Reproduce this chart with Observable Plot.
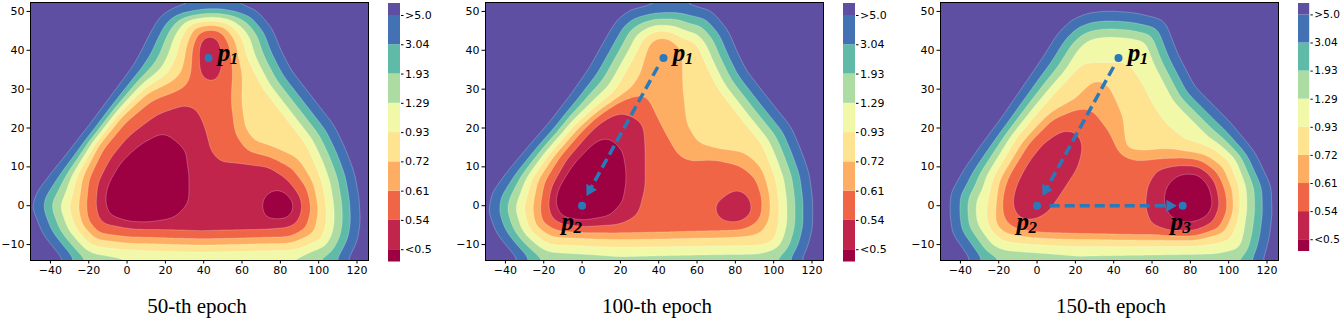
<!DOCTYPE html>
<html><head><meta charset="utf-8">
<script src="https://cdn.jsdelivr.net/npm/d3@7"></script>
<script src="https://cdn.jsdelivr.net/npm/@observablehq/plot@0.6"></script>
<style>
body{margin:0;background:#fff;}
#wrap{position:relative;width:1344px;height:319px;overflow:hidden;background:#fff;}
.pos{position:absolute;top:0;}
.title{position:absolute;top:296px;font-family:"Liberation Serif";font-size:21px;line-height:21px;white-space:nowrap;transform:translateX(-50%);color:#000;}
</style></head><body><div id="wrap"></div>
<script>
// ---------- data ----------
const thresholds = [0.5, 0.54, 0.61, 0.72, 0.93, 1.29, 1.93, 3.04, 5.0];
const barLabels = ["<0.5", "0.54", "0.61", "0.72", "0.93", "1.29", "1.93", "3.04", ">5.0"];
const bandColors = ["#9e0142", "#c2254b", "#ef6545", "#fdae62", "#fee391", "#f1f9a9", "#addca3", "#5fbba8", "#4272b3", "#5e4fa2"];
const xTicks = [-40, -20, 0, 20, 40, 60, 80, 100, 120];
const yTicks = [-10, 0, 10, 20, 30, 40, 50];
const xDomain = [-50.4, 126];
const yDomain = [-14.1, 52.3];
const epochTitles = ["50-th epoch", "100-th epoch", "150-th epoch"];

// contour rings [x, y] (data units) enclosing the region below each loss level
// 50-th epoch
const e50_050 = [
  [[-10.5,1.5],[-8,-2],[0,-3.7],[12,-3.7],[23,-2.4],[29.5,0.6],[29.8,6.6],[29,13.5],[19.3,17.7],[8.8,15.2],[-1.8,10.9],[-8.8,4.9]],
  [[72.8,0.6],[73.7,2.3],[80.7,3.2],[86.8,0.2],[83.9,-2.8],[73.7,-2.7]]
];
const e50_054 = [
  [[-16.7,0.6],[-15.5,6],[-9,12],[0,17.5],[15.8,23.2],[30,25.6],[36,24.6],[40,20],[43,14],[48,11],[60,10.5],[74,10],[84,6.6],[91,2.3],[92,-1],[87.7,-5.4],[73.7,-6.3],[38.6,-6.7],[3.5,-6.3],[-14,-4.5]],
  [[43.9,44.5],[48.7,42.8],[50.5,37.4],[46,32],[43.9,31.8],[37.2,34.6],[36.3,41.7],[39.2,43.8]]
];
const e50_061 = [
  [[-22,0],[-20.5,7],[-13,14.5],[-1,21.5],[13,27],[27,29.5],[32,31],[33.5,40],[37,44.5],[44,45.8],[50,45],[54,41.5],[56,35],[55,27],[57,18],[63,14],[75,12.8],[87,9.5],[95,4],[97,-1],[94,-6],[85,-8.5],[40,-9],[0,-8.5],[-15,-7.5],[-21,-4]]
];
const e50_072 = [
  [[-26,0],[-24.5,7.5],[-16.5,16],[-4,23.5],[10,29.5],[24,32.5],[29,34.5],[30,41],[34,46.5],[44,47.3],[52,46.5],[57.5,42.5],[59.5,35],[59,27],[61,20],[66,16.5],[76,15],[89,12],[98,6],[100.5,-1],[97.5,-7.5],[86,-10],[40,-10.5],[0,-10],[-17,-9],[-24.5,-5]]
];
const e50_500 = [
  [[-30,-15.5],[-43.9,-7.1],[-48.6,-1.1],[-47.4,3.2],[-40.4,7.5],[-31.6,12.6],[-19.3,20.1],[-8.8,27.2],[3.5,35.7],[12.3,44.3],[17.5,48.6],[24.6,50.7],[38.6,51.8],[50,51.9],[60,51.2],[67,50.3],[75.5,45.5],[80,40],[85.5,34.8],[97,27.5],[108,20.5],[114,14.3],[118.5,8.3],[120.8,2],[121.5,-4],[120,-9],[116,-13],[112,-16],[95,-18.8],[20,-19.2],[-20,-18]]
];
// 100-th epoch
const e100_050 = [
  [[-13.4,0.6],[-11.3,4.9],[-2.6,10.9],[7.8,15.6],[13,16.5],[19.1,13.9],[20.9,7.5],[19.1,1.5],[13,-2],[0.9,-3.3],[-9.6,-2.8]]
];
const e100_054 = [
  [[-18.3,-0.3],[-17.4,4],[-9,12],[4.3,19.5],[14.8,22.9],[21.7,23.5],[31.3,21.2],[32.2,13.5],[32.2,4.9],[28.7,-2],[18.3,-5.2],[0.9,-6],[-14,-4.8]],
  [[69.6,-1.1],[70.4,0.6],[80.9,4.2],[87.8,1.5],[88.7,-2],[82.6,-4.5],[74.8,-4.5]]
];
const e100_061 = [
  [[-22.6,-0.3],[-20,6.6],[-11.3,13.5],[6,23.7],[18.3,27.6],[27.8,28.6],[34,27.5],[38,23],[42.6,18.6],[49.6,12.6],[56.5,10.9],[70.4,11.7],[82.6,10],[91.3,6.6],[94.8,1.5],[93.9,-3.7],[84.3,-6.7],[53,-7.1],[18.3,-7.5],[-11.3,-7.1],[-21.7,-4.5]]
];
const e100_072 = [
  [[-26.4,-0.3],[-24.3,6.6],[-16.5,12.6],[-2.6,20.3],[11.3,25.4],[25.2,29.7],[31,34],[33.9,41.7],[39.1,43.9],[46.1,43.4],[51.3,40.9],[52,30],[54,21],[60,16],[70,14.5],[84.3,13.5],[94.5,9.5],[98.4,3.2],[98.4,-2.8],[92,-7.5],[70.4,-8.6],[18.3,-9],[-16.5,-8.4],[-25.2,-5.4]]
];
const e100_500 = [
  [[-30,-15.5],[-44.3,-7.1],[-48.2,-2],[-47,3.2],[-39.1,8.3],[-28.7,14.3],[-16.5,21.2],[-6.1,28],[4.3,35.7],[13,43.4],[18.3,47.7],[25.2,50.3],[39.1,51.5],[50,51.8],[60,51],[67.3,50.2],[76,45.1],[80.3,40],[85.5,34.8],[97.6,27.1],[108.8,20.3],[114,14.3],[118.3,8.3],[120.1,1.4],[120.1,-5.4],[117.5,-10.6],[114,-14.1],[108,-17],[95,-18.8],[20,-19.2],[-20,-18]]
];
// 150-th epoch
const e150_050 = [
  [[69.6,4.9],[75.7,7.5],[84.4,7.5],[89.7,4],[91.5,-0.3],[87,-2.8],[77.4,-3.7],[70.5,-2],[68.4,1.5]]
];
const e150_054 = [
  [[13.6,19],[20.6,18.6],[23.3,15.2],[20.6,10],[12.8,4],[5.8,-1.1],[-1.2,-3.3],[-10,-3.3],[-12.6,0.6],[-10.8,4.9],[-4.7,10.9],[4,16]],
  [[58.2,4.9],[63.5,9.2],[74,10.9],[86.2,10.5],[94,6.6],[95.8,0.6],[92.3,-4.5],[82.7,-7.1],[68.7,-7.1],[60,-4.5],[57.3,-0.3]]
];
const e150_061 = [
  [[-18.7,-2],[-19.1,2.3],[-15.2,8.3],[-4.7,16.9],[7.5,22.9],[19.8,25],[28.5,24.2],[37.2,18.6],[44.2,13.5],[51.2,11.7],[65.2,12.6],[82.7,12.6],[93.2,9.2],[99,4],[100.2,-1],[95.5,-6.3],[82.7,-8.4],[47.7,-8],[4,-7.5],[-11.7,-6.3]]
];
const e150_072 = [
  [[-22.2,-0.3],[-20.5,6.6],[-8.2,16],[5.8,22.9],[19.8,27.2],[30.2,32.3],[37.2,30.6],[44.2,22.9],[46,14.3],[56.5,13.9],[74,14.3],[87.9,13.5],[98,10],[103,4],[103.7,-1.5],[98.5,-7.3],[82.7,-9.3],[47.7,-9.3],[-4.7,-8.8],[-18.7,-7.5],[-23.1,-4.5]]
];
const e150_093 = [
  [[-25.7,-0.5],[-24,7],[-12,17.5],[0,24.5],[10,30],[17,33.5],[22.8,36.1],[35,36.6],[47.3,36.5],[54.1,31.4],[59.3,26.3],[66.3,21.1],[76.8,16.8],[92.5,15.1],[101.5,11.5],[106,5],[106.3,-1],[104,-5.5],[98,-9.2],[82.7,-10.5],[12.8,-10.5],[-17,-9.3],[-25.7,-5.4]]
];
const e150_500 = [
  [[-32,-15.5],[-44,-7.1],[-45.2,-2],[-44.9,3.2],[-37.9,9.2],[-29.2,15.2],[-18.7,22],[-8.2,29.7],[2.3,37.4],[11,44.3],[18,47.7],[26.7,49.5],[37.2,50],[50,49.6],[60,48.5],[66.5,47.6],[73.2,39],[82.1,30.6],[99.5,22],[113.4,13.5],[121.9,4.9],[122.3,-2.5],[121,-8],[118.5,-13],[113,-17],[95,-18.8],[20,-19.2],[-20,-18]]
];

const pointNames = ["p1", "p2", "p3"];
const pointX = [42.5, 0, 76];
const pointY = [38, 0, 0];
const labelX = [47.3, -10.8, 69.6];
const labelY = [37.2, -6.3, -6.3];
const panelPoints = [["p1"], ["p1", "p2"], ["p1", "p2", "p3"]];
// dashed arrows [x1, y1, x2, y2] (end = arrow head centre)
const arrows50 = [];
const arrows100 = [[39.5, 35.7, 4.1, 4.1]];
const arrows150 = [[39.9, 35.7, 4.6, 4.1], [6.6, 0, 69.3, 0]];

// ---------- layout ----------
const plotW = 338, plotH = 258;
const M = {left: 30, right: 2, top: 2, bottom: 30};
const plotLefts = [30, 485, 940];
const barOffset = 20, barW = 12;
const titleCenters = [197, 657, 1111];
const dotColor = "#2a7ab9";
const sx = plotW / (xDomain[1] - xDomain[0]);
const sy = plotH / (yDomain[1] - yDomain[0]);
const pxPerLevel = 8;

const levelIndex = d3.scaleLinear().domain(d3.range(10)).range([0.45, ...thresholds]);

function insideRing(r, x, y) {
  let c = false;
  for (let i = 0, j = r.length - 1; i < r.length; j = i++) {
    const [xi, yi] = r[i], [xj, yj] = r[j];
    if ((yi > y) !== (yj > y) && x < (xj - xi) * (y - yi) / (yj - yi) + xi) c = !c;
  }
  return c;
}
function distRing(r, x, y) {
  let m = Infinity;
  for (let i = 0, j = r.length - 1; i < r.length; j = i++) {
    const [ax, ay] = r[j], [bx, by] = r[i];
    const dx = bx - ax, dy = by - ay;
    let t = ((x - ax) * dx + (y - ay) * dy) / (dx * dx + dy * dy);
    t = Math.max(0, Math.min(1, t));
    const ex = ax + t * dx - x, ey = ay + t * dy - y;
    const d = ex * ex + ey * ey;
    if (d < m) m = d;
  }
  return Math.sqrt(m);
}
function makeField(levels) {
  const sets = levels.map(([lv, rings]) => ({
    k: thresholds.indexOf(lv) + 1,
    rings: rings.map(r => r.map(([x, y]) => [x * sx, y * sy]))
  }));
  const inside = (s, x, y) => s.rings.some(r => insideRing(r, x, y));
  const dist = (s, x, y) => d3.min(s.rings, r => distRing(r, x, y));
  return (x, y) => {
    const px = x * sx, py = y * sy;
    let hi = -1;
    for (let i = 0; i < sets.length; i++) if (inside(sets[i], px, py)) { hi = i; break; }
    let L;
    if (hi === 0) L = sets[0].k - 0.5;
    else if (hi === -1) { const s = sets[sets.length - 1]; L = s.k + dist(s, px, py) / pxPerLevel; }
    else {
      const lo = sets[hi - 1], h = sets[hi];
      const a = dist(lo, px, py), b = dist(h, px, py);
      L = lo.k + (h.k - lo.k) * a / (a + b);
      // inside an island far from any lower contour: let it sink below its rim
      L = Math.max(lo.k + 0.15, Math.min(L, h.k - b / pxPerLevel));
    }
    return levelIndex(Math.min(L, 9.6));
  };
}

const panels = [
  [[0.5, e50_050], [0.54, e50_054], [0.61, e50_061], [0.72, e50_072], [5.0, e50_500]],
  [[0.5, e100_050], [0.54, e100_054], [0.61, e100_061], [0.72, e100_072], [5.0, e100_500]],
  [[0.5, e150_050], [0.54, e150_054], [0.61, e150_061], [0.72, e150_072], [0.93, e150_093], [5.0, e150_500]]
];
const panelArrows = [arrows50, arrows100, arrows150];

const wrap = document.getElementById("wrap");
const axisStyle = {fontFamily: "DejaVu Sans", fontSize: "11px", color: "#000", background: "transparent", overflow: "visible"};

function headAngle(a) {
  const dxs = (a[2] - a[0]) * sx, dys = -(a[3] - a[1]) * sy;
  return Math.atan2(dxs, -dys) * 180 / Math.PI;
}

panels.forEach((levels, i) => {
  const pts = panelPoints[i].map(n => {
    const k = pointNames.indexOf(n);
    return {name: n, x: pointX[k], y: pointY[k], lx: labelX[k], ly: labelY[k]};
  });
  const arrows = panelArrows[i];
  const field = makeField(levels);
  const svg = Plot.plot({
    width: M.left + plotW + M.right, height: M.top + plotH + M.bottom,
    marginLeft: M.left, marginRight: M.right, marginTop: M.top, marginBottom: M.bottom,
    x: {domain: xDomain},
    y: {domain: yDomain},
    color: {type: "threshold", domain: thresholds, range: bandColors},
    style: axisStyle,
    marks: [
      Plot.contour({value: field, x1: xDomain[0], x2: xDomain[1], y1: yDomain[0], y2: yDomain[1], blur: 2,
        thresholds: [0, ...thresholds], fill: "value", stroke: "white", strokeOpacity: 0.4, strokeWidth: 0.6}),
      Plot.frame({stroke: "black", strokeWidth: 1}),
      Plot.axisX({ticks: xTicks, tickSize: 3.5, tickPadding: 2.5, label: null, fontSize: 11}),
      Plot.axisY({ticks: yTicks, tickSize: 3.5, tickPadding: 2.5, label: null, fontSize: 11}),
      Plot.link(arrows, {x1: d => d[0], y1: d => d[1], x2: d => d[2], y2: d => d[3], stroke: dotColor, strokeWidth: 3.5, strokeDasharray: "10,5"}),
      Plot.dot(arrows, {x: d => d[2], y: d => d[3], symbol: "triangle", r: 4.5, fill: dotColor, rotate: d => headAngle(d)}),
      Plot.dot(pts, {x: "x", y: "y", r: 4, fill: dotColor}),
      Plot.text(pts, {x: "lx", y: "ly", text: () => "p", fontFamily: "Liberation Serif", fontWeight: "bold", fontStyle: "italic", fontSize: 25, textAnchor: "start", lineAnchor: "bottom", fill: "black"}),
      Plot.text(pts, {x: "lx", y: "ly", text: d => d.name.slice(1), fontFamily: "Liberation Serif", fontWeight: "bold", fontStyle: "italic", fontSize: 17, dx: 12, dy: 3, textAnchor: "start", lineAnchor: "bottom", fill: "black"})
    ]
  });
  const d = document.createElement("div");
  d.className = "pos";
  d.style.left = (plotLefts[i] - M.left) + "px";
  d.appendChild(svg);
  wrap.appendChild(d);

  // colour bar
  const cbM = {left: 2, right: 36, top: 3, bottom: 4};
  const bar = Plot.plot({
    width: cbM.left + barW + cbM.right, height: cbM.top + 258.5 + cbM.bottom,
    marginLeft: cbM.left, marginRight: cbM.right, marginTop: cbM.top, marginBottom: cbM.bottom,
    x: {domain: [0, 1], axis: null},
    y: {domain: [-0.42, 8.41]},
    style: axisStyle,
    marks: [
      Plot.rect(d3.range(bandColors.length), {x1: 0, x2: 1, y1: k => k - 1, y2: k => k, fill: k => bandColors[k], clip: true}),
      Plot.axisY({anchor: "right", ticks: d3.range(barLabels.length), tickFormat: t => barLabels[t], tickSize: 2.5, tickPadding: 2, label: null, fontSize: 11})
    ]
  });
  const b = document.createElement("div");
  b.className = "pos";
  b.style.left = (plotLefts[i] + plotW + barOffset - cbM.left) + "px";
  b.appendChild(bar);
  wrap.appendChild(b);

  const t = document.createElement("div");
  t.className = "title";
  t.style.left = titleCenters[i] + "px";
  t.textContent = epochTitles[i];
  wrap.appendChild(t);
});
</script></body></html>
